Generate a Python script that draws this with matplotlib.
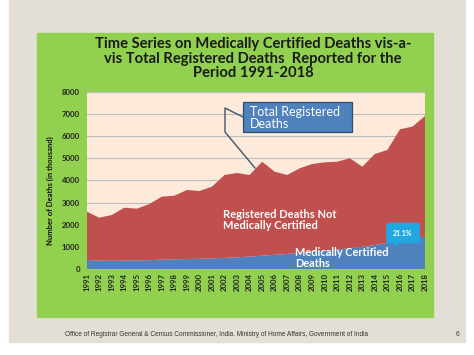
import matplotlib
matplotlib.use("Agg")
import matplotlib.pyplot as plt
from matplotlib.patches import Rectangle, FancyBboxPatch, Polygon
from matplotlib.lines import Line2D

W, H = 474, 355

# data (thousands)
years = list(range(1991, 2019))
total = [2590, 2315, 2437, 2766, 2721, 2933, 3263, 3308, 3565, 3520,
         3714, 4242, 4332, 4242, 4842, 4391, 4242, 4544, 4738, 4814,
         4842, 4995, 4617, 5190, 5370, 6304, 6424, 6904]
certified = [406, 380, 370, 380, 390, 400, 420, 440, 450, 460,
             480, 500, 530, 560, 600, 640, 680, 720, 780, 830,
             880, 940, 1000, 1080, 1180, 1300, 1400, 1460]
not_certified = [t - c for t, c in zip(total, certified)]
yticks = list(range(0, 8001, 1000))

C_RED, C_BLUE = "#C0504D", "#4F81BD"
C_GREEN, C_SLIDE, C_PLOT = "#92D050", "#E4DFD6", "#FDEADA"


def fx(x):
    return x / W


def fy(y):
    return 1 - y / H


fig = plt.figure(figsize=(W / 100, H / 100), dpi=100)
fig.patch.set_facecolor("white")

# slide + green panel (behind the axes)
fig.patches.append(Rectangle((fx(9), fy(342)), fx(465) - fx(9), fy(0) - fy(342),
                             transform=fig.transFigure, color=C_SLIDE, zorder=-3))
fig.patches.append(Rectangle((fx(37), fy(317)), fx(433) - fx(37), fy(33) - fy(317),
                             transform=fig.transFigure, color=C_GREEN, zorder=-2))

ax = fig.add_axes([fx(86.7), fy(269), fx(425) - fx(86.7), fy(91.7) - fy(269)])
ax.set_zorder(1)
ax.set_facecolor(C_PLOT)
ax.stackplot(years, certified, not_certified, colors=[C_BLUE, C_RED], zorder=2)
ax.set_xlim(years[0], years[-1])
ax.set_ylim(0, 8000)
ax.set_yticks(yticks)
ax.set_yticklabels([str(v) for v in yticks], fontsize=5.6, color="#222222",
                   family="Lato", fontweight="bold")
ax.set_xticks(years)
ax.set_xticklabels([str(y) for y in years], rotation=90, fontsize=5.6,
                   color="#222222", family="Lato", fontweight="bold")
ax.tick_params(length=0, pad=5)
ax.tick_params(axis="x", pad=3)
ax.grid(axis="y", color="#BDBDBD", lw=0.8, zorder=1)
ax.set_axisbelow(True)
for s in ax.spines.values():
    s.set_visible(False)

fig.text(fx(50), fy(191), "Number of Deaths (in thousand)", rotation=90,
         ha="center", va="center", fontsize=5.5, fontweight="bold",
         family="Lato", color="#111111")

# title
for txt, y in [("Time Series on Medically Certified Deaths vis-a-", 44),
               ("vis Total Registered Deaths  Reported for the", 58.5),
               ("Period 1991-2018", 73.3)]:
    fig.text(fx(253), fy(y), txt, ha="center", va="center", fontsize=10.6,
             fontweight="bold", family="Lato", color="#1A1A1A")

# callout "Total Registered Deaths"
fig.patches.append(Rectangle((fx(243), fy(132)), fx(352) - fx(243), fy(102) - fy(132),
                             transform=fig.transFigure, facecolor=C_BLUE,
                             edgecolor="#2C4D75", lw=0.9, zorder=5))
fig.lines.append(Line2D([fx(243), fx(225), fx(225), fx(255)],
                        [fy(117), fy(108), fy(132), fy(168)],
                        transform=fig.transFigure, color="#3B5670", lw=1.0, zorder=5))
fig.text(fx(250), fy(118), "Total Registered\nDeaths", ha="left", va="center",
         fontsize=9, color="white", family="Lato", linespacing=1.0, zorder=6)

# in-area labels
fig.text(fx(223), fy(220), "Registered Deaths Not\nMedically Certified", ha="left",
         va="center", fontsize=8, fontweight="bold", color="white", family="Lato",
         linespacing=1.1, zorder=6)
fig.text(fx(295), fy(258), "Medically Certified\nDeaths", ha="left", va="center",
         fontsize=7.9, fontweight="bold", color="white", family="Lato",
         linespacing=1.1, zorder=6)

# 21.1% bubble
fig.patches.append(FancyBboxPatch((fx(388), fy(242)), fx(418) - fx(388), fy(224) - fy(242),
                                  boxstyle="round,pad=0.004,rounding_size=0.008",
                                  transform=fig.transFigure, facecolor="#21A8E0",
                                  edgecolor="none", zorder=5))
fig.patches.append(Polygon([(fx(394), fy(241)), (fx(402), fy(241)), (fx(395), fy(247))],
                           closed=True, transform=fig.transFigure, facecolor="#21A8E0",
                           edgecolor="none", zorder=5))
fig.text(fx(403), fy(233), "21.1%", ha="center", va="center", fontsize=5,
         fontweight="bold", color="white", family="Lato", zorder=6)

# footer
fig.text(fx(65), fy(335), "Office of Registrar General & Census Commissioner, India. "
         "Ministry of Home Affairs, Government of India", ha="left", va="center",
         fontsize=4.7, color="#333333", family="Liberation Sans")
fig.text(fx(457), fy(335), "6", ha="center", va="center", fontsize=4.7,
         color="#333333", family="Liberation Sans")

fig.savefig("out.png", dpi=100)
